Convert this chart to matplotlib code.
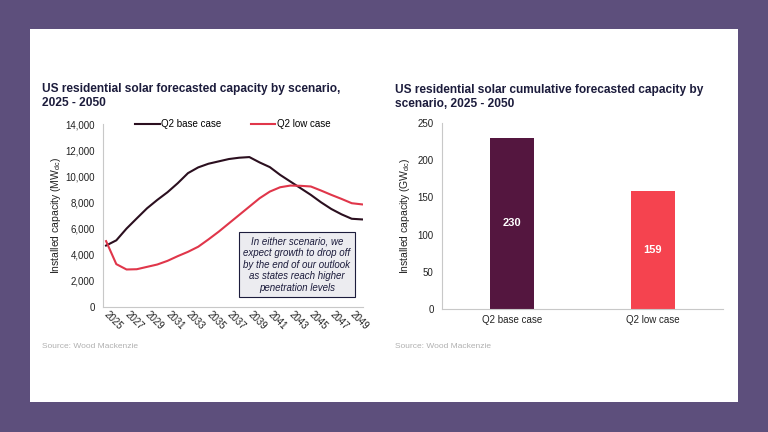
import matplotlib.pyplot as plt
import numpy as np

plt.rcParams['font.family'] = ['Liberation Sans', 'DejaVu Sans']

years = list(range(2025, 2051))
base_case = [4700, 5100, 6000, 6780, 7550, 8190, 8780, 9470, 10240, 10680,
             10960, 11140, 11320, 11420, 11470, 11060, 10700, 10110, 9600, 9090,
             8580, 8010, 7500, 7090, 6750, 6700]
low_case = [5040, 3280, 2870, 2890, 3070, 3250, 3530, 3890, 4220, 4610,
            5170, 5760, 6400, 7040, 7680, 8320, 8830, 9160, 9290, 9270,
            9220, 8910, 8580, 8270, 7940, 7850]

scenarios = ['Q2 base case', 'Q2 low case']
cumulative = [230, 159]

navy = '#1c1c3c'
c_base_line = '#2b0f1f'
c_low_line = '#e0364a'
c_base_bar = '#54163f'
c_low_bar = '#f5434f'
spine_c = '#c8c8c8'

fig = plt.figure(figsize=(7.68, 4.32), dpi=100)
fig.patch.set_facecolor('#5d4f7c')
W, H = 768, 432

# white panel
panel = fig.add_axes([30 / W, 1 - 402 / H, 708 / W, 373 / H])
panel.set_facecolor('white')
panel.set_xticks([])
panel.set_yticks([])
for s in panel.spines.values():
    s.set_visible(False)

# ---- left chart
ax1 = fig.add_axes([103 / W, 1 - 307 / H, 260 / W, 183 / H])
ax1.plot(years, base_case, color=c_base_line, lw=1.5, label='Q2 base case')
ax1.plot(years, low_case, color=c_low_line, lw=1.5, label='Q2 low case')
ax1.set_ylim(0, 14000)
ax1.set_xlim(2024.7, 2050.1)
ax1.set_yticks(range(0, 14001, 2000))
ax1.set_yticklabels([f'{v:,}' for v in range(0, 14001, 2000)])
ax1.set_xticks(range(2025, 2050, 2))
ax1.set_xticklabels([str(y) for y in range(2025, 2050, 2)], rotation=-45,
                    ha='left', va='center', rotation_mode='anchor')
ax1.tick_params(length=0, labelsize=7, colors='#222222', pad=6)
ax1.tick_params(axis='x', pad=4)
for s in ['top', 'right']:
    ax1.spines[s].set_visible(False)
for s in ['left', 'bottom']:
    ax1.spines[s].set_color(spine_c)
    ax1.spines[s].set_linewidth(0.8)
ax1.set_ylabel('Installed capacity (MW$_{\\mathregular{dc}}$)', fontsize=7.5,
               color='#222222', labelpad=1.5)
ax1.legend(loc='lower center', bbox_to_anchor=(0.5, 0.95), ncol=2, frameon=False,
           fontsize=7, handlelength=2.5, columnspacing=3, handletextpad=0.2,
           borderaxespad=0)
ax1.text(0.746, 0.232, 'In either scenario, we\nexpect growth to drop off\n'
         'by the end of our outlook\nas states reach higher\npenetration levels',
         transform=ax1.transAxes, ha='center', va='center', fontsize=7,
         style='italic', color=navy, linespacing=1.2,
         bbox=dict(boxstyle='square,pad=0.45', fc='#ececf0', ec=navy, lw=0.8))

fig.text(42 / W, 1 - 96 / H, 'US residential solar forecasted capacity by scenario,\n2025 - 2050',
         fontsize=8.6, fontweight='bold', color=navy, va='center', ha='left',
         linespacing=1.25)
fig.text(42 / W, 1 - 346 / H, 'Source: Wood Mackenzie', fontsize=6,
         color='#b0b0b0', va='center', ha='left')

# ---- right chart
ax2 = fig.add_axes([442 / W, 1 - 309 / H, 281 / W, 186 / H])
bars = ax2.bar([0, 1], cumulative, width=0.31, color=[c_base_bar, c_low_bar])
ax2.set_xlim(-0.5, 1.5)
ax2.set_ylim(0, 250)
ax2.set_yticks(range(0, 251, 50))
ax2.set_xticks([0, 1])
ax2.set_xticklabels(scenarios)
ax2.tick_params(length=0, labelsize=7, colors='#222222', pad=6)
ax2.tick_params(axis='x', pad=4)
for s in ['top', 'right']:
    ax2.spines[s].set_visible(False)
for s in ['left', 'bottom']:
    ax2.spines[s].set_color(spine_c)
    ax2.spines[s].set_linewidth(0.8)
ax2.set_ylabel('Installed capacity (GW$_{\\mathregular{dc}}$)', fontsize=7.5,
               color='#222222', labelpad=4)
for b, v in zip(bars, cumulative):
    ax2.text(b.get_x() + b.get_width() / 2, v / 2, str(v), ha='center', va='center',
             color='white', fontsize=8, fontweight='bold')

fig.text(395 / W, 1 - 97 / H, 'US residential solar cumulative forecasted capacity by\nscenario, 2025 - 2050',
         fontsize=8.6, fontweight='bold', color=navy, va='center', ha='left',
         linespacing=1.25)
fig.text(395 / W, 1 - 346 / H, 'Source: Wood Mackenzie', fontsize=6,
         color='#b0b0b0', va='center', ha='left')

fig.savefig('out.png', dpi=100, facecolor=fig.get_facecolor())
